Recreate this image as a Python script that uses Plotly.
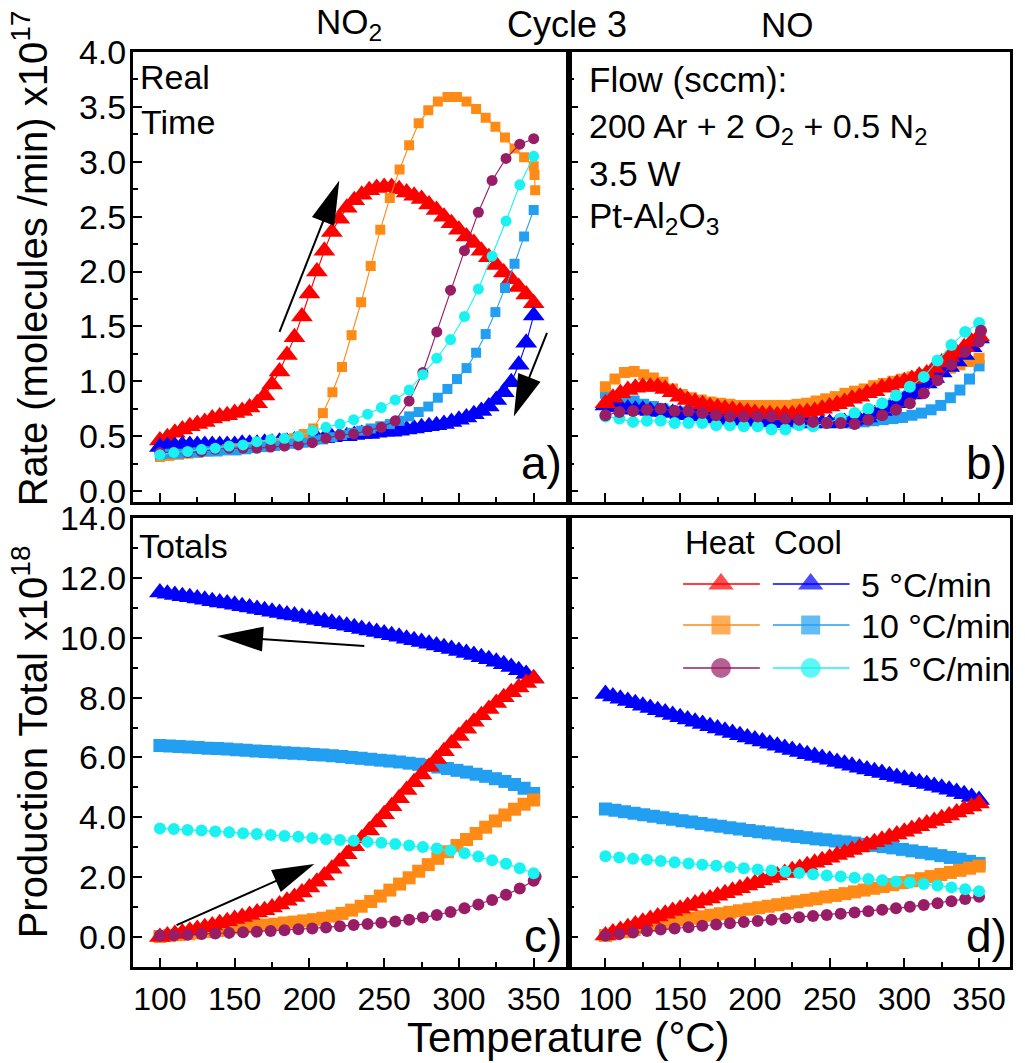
import math
import plotly.graph_objects as go

# ---------------- data ----------------
T5 = list(range(100, 351, 5))
T10 = [100.0, 106.4, 112.8, 119.2, 125.6, 132.1, 138.5, 144.9, 151.3, 157.7,
       164.1, 170.5, 176.9, 183.3, 189.7, 196.2, 202.6, 209.0, 215.4, 221.8,
       228.2, 234.6, 241.0, 247.4, 253.8, 260.3, 266.7, 273.1, 279.5, 285.9,
       292.3, 298.7, 305.1, 311.5, 317.9, 324.4, 330.8, 337.2, 343.6, 350.0]
T15 = [100.0, 109.3, 118.5, 127.8, 137.0, 146.3, 155.6, 164.8, 174.1, 183.3,
       192.6, 201.9, 211.1, 220.4, 229.6, 238.9, 248.1, 257.4, 266.7, 275.9,
       285.2, 294.4, 303.7, 313.0, 322.2, 331.5, 340.7, 350.0]
T10_END_EXTRA = [350.6, 351.0]
T15_END_EXTRA = [351.3]

# a) NO2 rate (x1e17 molecules/min)
NO2_RATE_HEAT5 = [0.46, 0.49, 0.53, 0.56, 0.59, 0.61, 0.63, 0.66, 0.68, 0.69,
                  0.71, 0.73, 0.76, 0.80, 0.87, 0.97, 1.09, 1.24, 1.40, 1.59,
                  1.80, 2.00, 2.19, 2.36, 2.48, 2.58, 2.65, 2.70, 2.74, 2.76,
                  2.77, 2.77, 2.75, 2.72, 2.69, 2.66, 2.61, 2.56, 2.50, 2.44,
                  2.38, 2.32, 2.26, 2.19, 2.13, 2.06, 1.99, 1.93, 1.86, 1.79,
                  1.71]
NO2_RATE_COOL5 = [0.40, 0.41, 0.41, 0.42, 0.42, 0.42, 0.42, 0.42, 0.42, 0.42,
                  0.42, 0.43, 0.43, 0.43, 0.44, 0.44, 0.45, 0.45, 0.46, 0.46,
                  0.47, 0.48, 0.48, 0.49, 0.50, 0.50, 0.51, 0.52, 0.52, 0.53,
                  0.54, 0.54, 0.55, 0.56, 0.57, 0.58, 0.59, 0.60, 0.61, 0.63,
                  0.65, 0.67, 0.70, 0.73, 0.77, 0.83, 0.90, 0.99, 1.15, 1.35,
                  1.60]
NO2_RATE_HEAT10 = [0.31, 0.32, 0.33, 0.34, 0.35, 0.36, 0.37, 0.38, 0.39, 0.40,
                   0.41, 0.42, 0.44, 0.46, 0.48, 0.52, 0.57, 0.71, 0.90, 1.13,
                   1.42, 1.72, 2.05, 2.38, 2.67, 2.93, 3.15, 3.35, 3.47, 3.55,
                   3.59, 3.59, 3.55, 3.48, 3.40, 3.32, 3.22, 3.12, 3.04, 2.96,
                   2.88, 2.74]
NO2_RATE_COOL10 = [0.33, 0.34, 0.34, 0.35, 0.35, 0.36, 0.36, 0.37, 0.37, 0.38,
                   0.39, 0.40, 0.41, 0.42, 0.43, 0.44, 0.46, 0.47, 0.49, 0.51,
                   0.53, 0.55, 0.57, 0.59, 0.61, 0.64, 0.68, 0.72, 0.77, 0.85,
                   0.93, 1.02, 1.12, 1.26, 1.43, 1.63, 1.85, 2.07, 2.32, 2.56]
NO2_RATE_HEAT15 = [0.35, 0.35, 0.35, 0.36, 0.38, 0.39, 0.39, 0.39, 0.40, 0.41,
                   0.42, 0.44, 0.48, 0.51, 0.52, 0.55, 0.58, 0.64, 0.82, 1.08,
                   1.45, 1.83, 2.19, 2.54, 2.83, 3.03, 3.16, 3.21]
NO2_RATE_COOL15 = [0.33, 0.35, 0.36, 0.38, 0.39, 0.41, 0.42, 0.45, 0.47, 0.48,
                   0.50, 0.55, 0.58, 0.61, 0.65, 0.70, 0.76, 0.83, 0.92, 1.06,
                   1.21, 1.38, 1.59, 1.84, 2.14, 2.46, 2.79, 3.05]

# b) NO rate
NO_RATE_HEAT5 = [0.80, 0.85, 0.89, 0.92, 0.94, 0.95, 0.95, 0.95, 0.93, 0.90,
                 0.86, 0.83, 0.81, 0.79, 0.77, 0.76, 0.75, 0.74, 0.73, 0.72,
                 0.71, 0.70, 0.70, 0.69, 0.70, 0.70, 0.71, 0.72, 0.73, 0.75,
                 0.77, 0.79, 0.81, 0.84, 0.86, 0.89, 0.91, 0.94, 0.96, 0.98,
                 1.00, 1.02, 1.05, 1.07, 1.12, 1.17, 1.22, 1.26, 1.31, 1.36,
                 1.41]
NO_RATE_COOL5 = [0.78, 0.77, 0.76, 0.75, 0.74, 0.74, 0.73, 0.72, 0.72, 0.71,
                 0.70, 0.69, 0.69, 0.68, 0.67, 0.66, 0.65, 0.65, 0.64, 0.64,
                 0.63, 0.63, 0.63, 0.62, 0.62, 0.62, 0.62, 0.62, 0.62, 0.62,
                 0.62, 0.62, 0.63, 0.64, 0.65, 0.67, 0.70, 0.73, 0.76, 0.80,
                 0.84, 0.88, 0.93, 0.98, 1.03, 1.08, 1.13, 1.18, 1.24, 1.31,
                 1.39]
NO_RATE_HEAT10 = [0.95, 1.02, 1.08, 1.09, 1.06, 1.03, 0.99, 0.93, 0.88, 0.85,
                  0.83, 0.81, 0.80, 0.79, 0.78, 0.78, 0.78, 0.78, 0.78, 0.78,
                  0.79, 0.80, 0.82, 0.84, 0.86, 0.89, 0.91, 0.93, 0.96, 0.98,
                  1.00, 1.02, 1.04, 1.06, 1.08, 1.10, 1.12, 1.15, 1.18, 1.21]
NO_RATE_COOL10 = [0.89, 0.86, 0.84, 0.82, 0.79, 0.77, 0.75, 0.73, 0.72, 0.71,
                  0.70, 0.69, 0.68, 0.67, 0.66, 0.65, 0.65, 0.64, 0.63, 0.63,
                  0.62, 0.62, 0.62, 0.62, 0.62, 0.62, 0.62, 0.63, 0.64, 0.65,
                  0.66, 0.67, 0.69, 0.71, 0.74, 0.78, 0.85, 0.92, 1.02, 1.14]
NO_RATE_HEAT15 = [0.69, 0.72, 0.73, 0.74, 0.75, 0.73, 0.73, 0.71, 0.69, 0.68,
                  0.68, 0.68, 0.68, 0.66, 0.65, 0.63, 0.62, 0.62, 0.61, 0.65,
                  0.69, 0.74, 0.80, 0.89, 1.01, 1.15, 1.27, 1.36, 1.46]
NO_RATE_COOL15 = [0.68, 0.66, 0.63, 0.64, 0.64, 0.62, 0.62, 0.62, 0.60, 0.60,
                  0.59, 0.59, 0.56, 0.56, 0.60, 0.59, 0.62, 0.66, 0.71, 0.75,
                  0.80, 0.87, 0.95, 1.04, 1.19, 1.33, 1.45, 1.53]

# c) NO2 production totals (x1e18)
NO2_TOT_HEAT5 = [0.00, 0.05, 0.10, 0.15, 0.21, 0.27, 0.33, 0.39, 0.46, 0.53,
                 0.60, 0.67, 0.74, 0.82, 0.90, 0.99, 1.09, 1.21, 1.34, 1.49,
                 1.66, 1.85, 2.06, 2.28, 2.52, 2.77, 3.03, 3.29, 3.56, 3.83,
                 4.10, 4.37, 4.64, 4.91, 5.17, 5.43, 5.69, 5.95, 6.21, 6.47,
                 6.72, 6.96, 7.19, 7.41, 7.62, 7.82, 8.01, 8.18, 8.34, 8.49,
                 8.64]
NO2_TOT_COOL5 = [11.51, 11.47, 11.43, 11.39, 11.35, 11.31, 11.27, 11.22, 11.18, 11.14,
                 11.10, 11.05, 11.01, 10.96, 10.92, 10.87, 10.83, 10.78, 10.74, 10.69,
                 10.64, 10.59, 10.55, 10.50, 10.45, 10.40, 10.35, 10.29, 10.24, 10.19,
                 10.14, 10.08, 10.03, 9.97, 9.92, 9.86, 9.80, 9.74, 9.68, 9.62,
                 9.56, 9.49, 9.42, 9.35, 9.28, 9.20, 9.11, 9.02, 8.91, 8.79,
                 8.64]
NO2_TOT_HEAT10 = [0.02, 0.05, 0.08, 0.11, 0.14, 0.18, 0.22, 0.27, 0.31, 0.34,
                  0.37, 0.40, 0.43, 0.47, 0.50, 0.54, 0.58, 0.63, 0.70, 0.79,
                  0.90, 1.03, 1.19, 1.37, 1.57, 1.77, 1.98, 2.20, 2.42, 2.63,
                  2.85, 3.06, 3.26, 3.46, 3.67, 3.88, 4.08, 4.27, 4.44, 4.58]
NO2_TOT_COOL10 = [6.40, 6.38, 6.37, 6.35, 6.33, 6.31, 6.30, 6.28, 6.26, 6.24,
                  6.22, 6.20, 6.18, 6.16, 6.14, 6.12, 6.10, 6.08, 6.06, 6.03,
                  6.00, 5.97, 5.94, 5.91, 5.88, 5.85, 5.81, 5.77, 5.73, 5.68,
                  5.63, 5.57, 5.51, 5.44, 5.37, 5.29, 5.20, 5.10, 4.97, 4.80]
NO2_TOT_HEAT15 = [0.05, 0.06, 0.08, 0.10, 0.12, 0.14, 0.16, 0.18, 0.20, 0.23,
                  0.26, 0.29, 0.32, 0.36, 0.40, 0.44, 0.48, 0.52, 0.58, 0.65,
                  0.74, 0.84, 0.96, 1.09, 1.24, 1.41, 1.62, 1.88, 2.02]
NO2_TOT_COOL15 = [3.63, 3.61, 3.58, 3.56, 3.53, 3.50, 3.47, 3.44, 3.41, 3.38,
                  3.35, 3.31, 3.27, 3.24, 3.22, 3.18, 3.15, 3.11, 3.06, 3.01,
                  2.96, 2.89, 2.80, 2.69, 2.57, 2.45, 2.30, 2.13]

# d) NO production totals
NO_TOT_HEAT5 = [0.05, 0.15, 0.24, 0.33, 0.42, 0.51, 0.60, 0.69, 0.78, 0.87,
                0.95, 1.04, 1.12, 1.21, 1.29, 1.38, 1.46, 1.55, 1.63, 1.72,
                1.80, 1.89, 1.97, 2.06, 2.14, 2.23, 2.31, 2.40, 2.48, 2.57,
                2.65, 2.74, 2.82, 2.91, 2.99, 3.08, 3.17, 3.25, 3.34, 3.43,
                3.52, 3.61, 3.70, 3.79, 3.88, 3.97, 4.06, 4.16, 4.26, 4.36,
                4.46]
NO_TOT_COOL5 = [8.12, 8.04, 7.96, 7.89, 7.81, 7.73, 7.65, 7.58, 7.50, 7.42,
                7.34, 7.27, 7.19, 7.12, 7.04, 6.97, 6.89, 6.82, 6.74, 6.67,
                6.60, 6.53, 6.46, 6.39, 6.32, 6.25, 6.18, 6.11, 6.05, 5.98,
                5.92, 5.85, 5.79, 5.72, 5.66, 5.60, 5.54, 5.48, 5.41, 5.35,
                5.29, 5.23, 5.17, 5.11, 5.05, 4.99, 4.92, 4.85, 4.77, 4.68,
                4.58]
NO_TOT_HEAT10 = [0.05, 0.11, 0.18, 0.25, 0.32, 0.39, 0.45, 0.51, 0.57, 0.63,
                 0.68, 0.73, 0.78, 0.83, 0.88, 0.93, 0.98, 1.03, 1.08, 1.13,
                 1.18, 1.23, 1.28, 1.34, 1.39, 1.45, 1.51, 1.57, 1.63, 1.69,
                 1.75, 1.82, 1.88, 1.95, 2.02, 2.09, 2.16, 2.23, 2.30, 2.37]
NO_TOT_COOL10 = [4.28, 4.24, 4.19, 4.14, 4.09, 4.04, 3.99, 3.94, 3.89, 3.84,
                 3.79, 3.74, 3.70, 3.65, 3.61, 3.56, 3.52, 3.48, 3.44, 3.40,
                 3.36, 3.32, 3.28, 3.25, 3.21, 3.18, 3.14, 3.10, 3.06, 3.02,
                 2.98, 2.93, 2.88, 2.83, 2.78, 2.72, 2.66, 2.60, 2.53, 2.46]
NO_TOT_HEAT15 = [0.05, 0.10, 0.15, 0.20, 0.25, 0.29, 0.33, 0.38, 0.42, 0.46,
                 0.50, 0.54, 0.58, 0.62, 0.66, 0.70, 0.74, 0.78, 0.82, 0.86,
                 0.91, 0.96, 1.01, 1.07, 1.13, 1.20, 1.27, 1.35]
NO_TOT_COOL15 = [2.70, 2.66, 2.62, 2.58, 2.54, 2.50, 2.46, 2.42, 2.38, 2.34,
                 2.30, 2.26, 2.22, 2.18, 2.14, 2.10, 2.06, 2.02, 1.98, 1.94,
                 1.90, 1.86, 1.82, 1.77, 1.72, 1.66, 1.60, 1.53]

X_TICKS = [100, 150, 200, 250, 300, 350]
RATE_LABELS = ["5 \u00b0C/min", "10 \u00b0C/min", "15 \u00b0C/min"]

# ---------------- styling ----------------
RED, BLUE = "#FF0000", "#0000FF"
ORANGE, LBLUE = "#FF8A16", "#229FF0"
PURPLE, CYAN = "#981C66", "#1AF2F2"
FONT = "Liberation Sans, Arial, Helvetica, sans-serif"

W, H = 1025, 1063
ML, MR, MT, MB = 133, 12, 52, 96
PW, PH = W - ML - MR, H - MT - MB
X_SPLIT = 570
Y_TOP_BOTTOM, Y_BOT_TOP = 502, 518

def xp(px):
    return (px - ML) / PW

def yp(py):
    return (H - MB - py) / PH

XL_DOM = [0, xp(X_SPLIT)]
XR_DOM = [xp(X_SPLIT), 1]
YT_DOM = [yp(Y_TOP_BOTTOM), 1]
YB_DOM = [0, yp(Y_BOT_TOP)]
XL_RANGE = [82.0, 373.3]
XR_RANGE = [75.3, 370.7]
YT_RANGE = [-0.1, 4.0]
YB_RANGE = [-1.0, 14.0]

fig = go.Figure()

def series(x, y, color, symbol, size, ax):
    fig.add_trace(go.Scatter(
        x=x, y=y, mode="lines+markers",
        line=dict(color=color, width=1.1),
        marker=dict(symbol=symbol, size=size, color=color, line=dict(width=0)),
        xaxis="x" + ax, yaxis="y" + ax, showlegend=False, hoverinfo="skip"))

TRI, SQ, CIR = "triangle-up", "square", "circle"
TS = 19  # triangle size for the dense 5 C/min series
# panel a
series(T5, NO2_RATE_HEAT5, RED, TRI, TS, "")
series(T5, NO2_RATE_COOL5, BLUE, TRI, TS, "")
series(T10 + T10_END_EXTRA, NO2_RATE_HEAT10, ORANGE, SQ, 10, "")
series(T10, NO2_RATE_COOL10, LBLUE, SQ, 10, "")
series(T15, NO2_RATE_HEAT15, PURPLE, CIR, 11, "")
series(T15, NO2_RATE_COOL15, CYAN, CIR, 11, "")
# panel b
series(T10, NO_RATE_COOL10, LBLUE, SQ, 11, "2")
series(T10, NO_RATE_HEAT10, ORANGE, SQ, 11, "2")
series(T5, NO_RATE_COOL5, BLUE, TRI, TS, "2")
series(T5, NO_RATE_HEAT5, RED, TRI, TS, "2")
series(T15, NO_RATE_COOL15, CYAN, CIR, 12, "2")
series(T15 + T15_END_EXTRA, NO_RATE_HEAT15, PURPLE, CIR, 12, "2")
# panel c
series(T10, NO2_TOT_COOL10, LBLUE, SQ, 13, "3")
series(T5, NO2_TOT_COOL5, BLUE, TRI, TS, "3")
series(T10, NO2_TOT_HEAT10, ORANGE, SQ, 13, "3")
series(T5, NO2_TOT_HEAT5, RED, TRI, TS, "3")
series(T15 + T15_END_EXTRA, NO2_TOT_HEAT15, PURPLE, CIR, 12, "3")
series(T15, NO2_TOT_COOL15, CYAN, CIR, 12, "3")
# panel d
series(T10, NO_TOT_COOL10, LBLUE, SQ, 13, "4")
series(T5, NO_TOT_COOL5, BLUE, TRI, TS, "4")
series(T10, NO_TOT_HEAT10, ORANGE, SQ, 13, "4")
series(T5, NO_TOT_HEAT5, RED, TRI, TS, "4")
series(T15, NO_TOT_HEAT15, PURPLE, CIR, 12, "4")
series(T15, NO_TOT_COOL15, CYAN, CIR, 12, "4")

# ---------------- legend keys (overlay axis in pixel units) ----------------
LEG_ROWS = [584, 625, 668]
LEG_HEAT_X = [685, 723, 762]
LEG_COOL_X = [775, 813, 852]
leg_items = [(RED, BLUE, TRI, 22), (ORANGE, LBLUE, SQ, 19), (PURPLE, CYAN, CIR, 20)]
for row_y, (ch, cc, sym, sz), lab in zip(LEG_ROWS, leg_items, RATE_LABELS):
    for xs, col in ((LEG_HEAT_X, ch), (LEG_COOL_X, cc)):
        fig.add_trace(go.Scatter(
            x=xs, y=[row_y] * 3, mode="lines+markers",
            line=dict(color=col, width=1.6),
            marker=dict(symbol=sym, size=[0, sz, 0], color=col, line=dict(width=0)),
            xaxis="x5", yaxis="y5", showlegend=False, hoverinfo="skip"))

# ---------------- axes ----------------
def axis(domain, rng, anchor, labels, **kw):
    d = dict(domain=domain, range=rng, anchor=anchor, showline=True, linecolor="black",
             linewidth=3, mirror=True, ticks="inside", ticklen=9, tickwidth=2,
             tickcolor="black", showgrid=False, zeroline=False, showticklabels=labels,
             tickfont=dict(family=FONT, size=32, color="black"))
    d.update(kw)
    return d

xkw = dict(tickmode="array", tickvals=X_TICKS, ticklabelstandoff=2,
           minor=dict(ticks="inside", ticklen=5, tickwidth=2, tickcolor="black", dtick=25, tick0=100, showgrid=False))
ytkw = dict(dtick=0.5, tick0=0, tickformat=".1f", ticklabelstandoff=-3,
            tickfont=dict(family=FONT, size=34, color="black"),
            minor=dict(ticks="inside", ticklen=5, tickwidth=2, tickcolor="black", dtick=0.25, tick0=0, showgrid=False))
ybkw = dict(dtick=2, tick0=0, tickformat=".1f", ticklabelstandoff=-3,
            tickfont=dict(family=FONT, size=34, color="black"),
            minor=dict(ticks="inside", ticklen=5, tickwidth=2, tickcolor="black", dtick=1, tick0=0, showgrid=False))

fig.update_layout(
    xaxis=axis(XL_DOM, XL_RANGE, "y", False, **xkw),
    yaxis=axis(YT_DOM, YT_RANGE, "x", True, **ytkw),
    xaxis2=axis(XR_DOM, XR_RANGE, "y2", False, **xkw),
    yaxis2=axis(YT_DOM, YT_RANGE, "x2", False, **ytkw),
    xaxis3=axis(XL_DOM, XL_RANGE, "y3", True, **xkw),
    yaxis3=axis(YB_DOM, YB_RANGE, "x3", True, **ybkw),
    xaxis4=axis(XR_DOM, XR_RANGE, "y4", True, **xkw),
    yaxis4=axis(YB_DOM, YB_RANGE, "x4", False, **ybkw),
    xaxis5=dict(domain=[0, 1], range=[ML, W - MR], anchor="y5", visible=False, fixedrange=True),
    yaxis5=dict(domain=[0, 1], range=[H - MB, MT], anchor="x5", visible=False, fixedrange=True),
)

# ---------------- text ----------------
ann = []

def text(s, px, py, size=34, xa="left", ya="middle", angle=0):
    ann.append(dict(text=s, x=xp(px), y=yp(py), xref="paper", yref="paper",
                    xanchor=xa, yanchor=ya, showarrow=False, textangle=angle,
                    borderpad=0, font=dict(family=FONT, size=size, color="black")))

text("NO<sub>2</sub>", 350, 24, 35, "center")
text("Cycle 3", 568, 24, 36, "center")
text("NO", 790, 24, 35, "center")
text("Real", 139, 57, 34, "left", "top")
text("Time", 140, 102, 34, "left", "top")
text("Flow (sccm):", 590, 59, 35, "left", "top")
text("200 Ar + 2 O<sub>2</sub> + 0.5 N<sub>2</sub>", 590, 106, 34, "left", "top")
text("3.5 W", 590, 153, 35, "left", "top")
text("Pt-Al<sub>2</sub>O<sub>3</sub>", 590, 195, 35, "left", "top")
text("Totals", 138, 526, 34, "left", "top")
text("Heat", 686, 523, 33, "left", "top")
text("Cool", 775, 523, 33, "left", "top")
for row_y, lab in zip(LEG_ROWS, RATE_LABELS):
    text(lab, 862, row_y + 1, 34, "left", "middle")
text("a)", 564, 463, 46, "right")
text("b)", 1011, 463, 46, "right")
text("c)", 564, 936, 46, "right")
text("d)", 1011, 936, 46, "right")
text("Rate (molecules /min) x10<sup>17</sup>", 30, 258, 40, "center", "middle", -90)
text("Production Total x10<sup>18</sup>", 30, 742, 40, "center", "middle", -90)
text("Temperature (\u00b0C)", 570, 1037, 42, "center")

# ---------------- arrows ----------------
shapes = []

def px_per_unit(dom, rng, total):
    return (dom[1] - dom[0]) * total / (rng[1] - rng[0])

def arrow(tail, tip, ax, xdom, xrng, ydom, yrng, L=42, Wd=22):
    sx = px_per_unit(xdom, xrng, PW)
    sy = px_per_unit(ydom, yrng, PH)
    dx = (tip[0] - tail[0]) * sx
    dy = (tip[1] - tail[1]) * sy
    n = math.hypot(dx, dy)
    ux, uy = dx / n, dy / n
    nx, ny = -uy, ux
    bx, by = -L * ux, -L * uy
    p1 = (bx + Wd / 2 * nx, by + Wd / 2 * ny)
    p2 = (bx - Wd / 2 * nx, by - Wd / 2 * ny)
    base = (tip[0] + (bx + 2 * ux) / sx, tip[1] + (by + 2 * uy) / sy)
    shapes.append(dict(type="line", xref="x" + ax, yref="y" + ax,
                       x0=tail[0], y0=tail[1], x1=base[0], y1=base[1],
                       line=dict(color="black", width=2)))
    shapes.append(dict(type="path", xref="x" + ax, yref="y" + ax,
                       xsizemode="pixel", ysizemode="pixel",
                       xanchor=tip[0], yanchor=tip[1],
                       path=f"M0,0 L{p1[0]:.2f},{p1[1]:.2f} L{p2[0]:.2f},{p2[1]:.2f} Z",
                       fillcolor="black", line=dict(width=0)))

arrow((180.0, 1.45), (220.0, 2.83), "", XL_DOM, XL_RANGE, YT_DOM, YT_RANGE, 44, 24)
arrow((358.9, 1.44), (336.7, 0.68), "", XL_DOM, XL_RANGE, YT_DOM, YT_RANGE, 42, 24)
arrow((236.7, 9.72), (138.2, 10.06), "3", XL_DOM, XL_RANGE, YB_DOM, YB_RANGE, 46, 25)
arrow((111.1, 0.40), (203.3, 2.44), "3", XL_DOM, XL_RANGE, YB_DOM, YB_RANGE, 42, 24)

fig.update_layout(
    width=W, height=H, margin=dict(l=ML, r=MR, t=MT, b=MB),
    paper_bgcolor="white", plot_bgcolor="rgba(0,0,0,0)",
    font=dict(family=FONT, color="black"),
    annotations=ann, shapes=shapes, showlegend=False,
)

fig.write_html("out.html")
